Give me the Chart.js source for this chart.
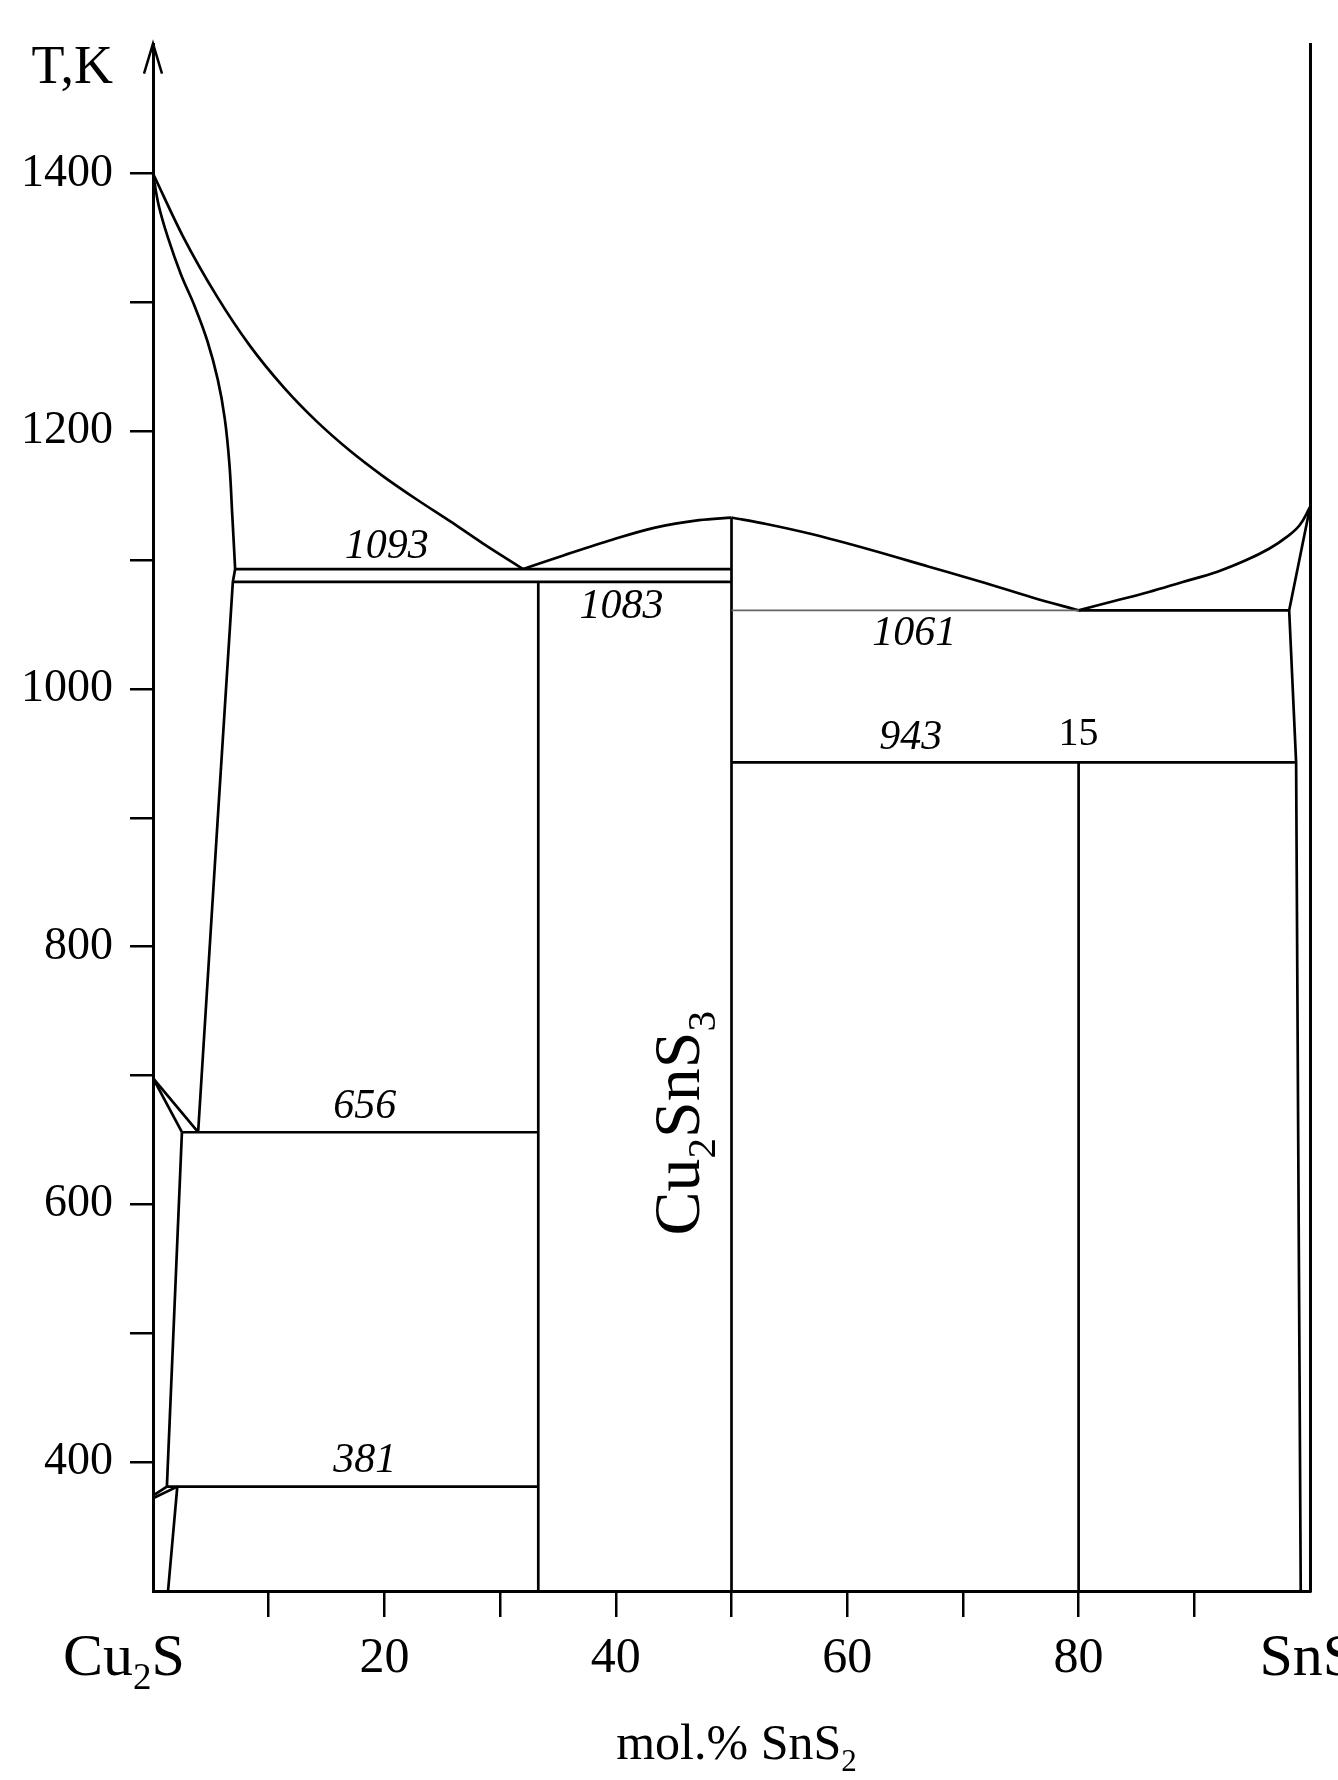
<!DOCTYPE html>
<html>
<head>
<meta charset="utf-8">
<title>Cu2S - SnS2</title>
<script src="https://cdn.jsdelivr.net/npm/chart.js@4.4.1/dist/chart.umd.min.js"></script>
<style>
  body { margin: 0; background: #fff; }
  canvas { display: block; }
</style>
</head>
<body>
<canvas id="phaseChart" width="1338" height="1780"></canvas>
<script>
// axis ticks (x in mol.% SnS2, y in K)
var xTicks = [10, 20, 30, 40, 50, 60, 70, 80, 90];
var xTickLabels = [20, 40, 60, 80];
var yTicks = [400, 500, 600, 700, 800, 900, 1000, 1100, 1200, 1300, 1400];
var yTickLabels = [400, 600, 800, 1000, 1200, 1400];

// liquidus Cu2S -> eutectic 1093
var liqLeftX = [0, 2.6, 5.5, 8.4, 11.3, 14.1, 17.0, 19.9, 22.8, 25.7, 28.5, 32.0];
var liqLeftT = [1400, 1351, 1305, 1266, 1234, 1208, 1185, 1165, 1147, 1130, 1113, 1093];
// solidus of Cu2S solid solution
var solLeftX = [0, 0.5, 1.3, 2.4, 3.6, 4.7, 5.6, 6.2, 6.6, 6.85, 7.0, 7.1];
var solLeftT = [1400, 1375, 1350, 1322, 1297, 1270, 1240, 1210, 1175, 1135, 1110, 1093];
// solvus down to 656
var solvLeftX = [7.1, 6.9, 5.6, 3.9];
var solvLeftT = [1093, 1083, 900, 656];
// low temperature part near Cu2S
var lowAX = [0, 3.9];      var lowAT = [698, 656];
var lowBX = [0, 2.5];      var lowBT = [698, 656];
var lowCX = [2.5, 1.2];    var lowCT = [656, 381];
var lowDX = [0, 1.2];      var lowDT = [374, 381];
var lowEX = [0, 2.1];      var lowET = [372, 381];
var lowFX = [2.1, 1.3];    var lowFT = [381, 300];
// invariant lines
var h1093X = [7.1, 50];    var h1093T = [1093, 1093];
var h1083X = [6.9, 50];    var h1083T = [1083, 1083];
var h656X = [2.5, 33.3];   var h656T = [656, 656];
var h381X = [1.2, 33.3];   var h381T = [381, 381];
var h1061aX = [50, 80];    var h1061aT = [1061, 1061];
var h1061bX = [80, 98.2];  var h1061bT = [1061, 1061];
var h943X = [50, 98.8];    var h943T = [943, 943];
// compounds
var v333X = [33.3, 33.3];  var v333T = [1083, 300];
var v50X = [50, 50];       var v50T = [1133, 300];
var v80X = [80, 80];       var v80T = [943, 300];
// liquidus between eutectic and Cu2SnS3 maximum
var liqMidX = [32.0, 35.6, 39.4, 43.3, 47.2, 50];
var liqMidT = [1093, 1104, 1115, 1125, 1131, 1133];
// liquidus Cu2SnS3 -> eutectic 1061
var liqRightAX = [50, 53, 57, 62, 67, 72, 76, 80];
var liqRightAT = [1133, 1128, 1120, 1108, 1095, 1082, 1071, 1061];
// liquidus eutectic 1061 -> SnS2
var liqRightBX = [80, 83, 86, 89, 92, 94.5, 96.5, 98, 99.1, 100];
var liqRightBT = [1061, 1068, 1075, 1083, 1091, 1100, 1109, 1118, 1127, 1141];
// solidus / solvus of SnS2
var solRightX = [100, 98.2, 98.8, 99.2];
var solRightT = [1141, 1061, 943, 300];

// text labels in the field
var isoText = ["1093", "1083", "1061", "943", "656", "381"];
var isoX = [20.2, 40.5, 65.8, 65.5, 18.3, 18.3];
var isoT = [1110, 1064, 1043, 962, 676, 401];
var compText = ["15"];
var compX = [80];
var compT = [965];

function pts(xs, ts) {
    return xs.map(function (x, i) { return { x: x, y: ts[i] }; });
}

// curve: 0 straight, 1 monotone in x, 2 free spline
function line(xs, ts, curve, color, width) {
    return {
        data: pts(xs, ts),
        showLine: true,
        borderColor: color || "#000",
        borderWidth: width || 2.7,
        pointRadius: 0,
        cubicInterpolationMode: curve === 1 ? "monotone" : "default",
        tension: curve === 2 ? 0.4 : 0,
        clip: 8
    };
}

var serif = "'Liberation Serif', 'Times New Roman', serif";

// chemical formula with subscript digits written as _n
function chemParts(s) {
    var out = [];
    for (var i = 0; i < s.length; i++) {
        if (s[i] === "_") {
            out.push({ t: s[i + 1], sub: true });
            i++;
        } else if (out.length && !out[out.length - 1].sub) {
            out[out.length - 1].t += s[i];
        } else {
            out.push({ t: s[i], sub: false });
        }
    }
    return out;
}

function drawChem(ctx, s, cx, baseY, size) {
    var parts = chemParts(s);
    var big = size + "px " + serif;
    var small = Math.round(size * 0.62) + "px " + serif;
    var w = 0;
    parts.forEach(function (p) {
        ctx.font = p.sub ? small : big;
        p.w = ctx.measureText(p.t).width;
        w += p.w;
    });
    var x = cx - w / 2;
    ctx.textAlign = "left";
    ctx.textBaseline = "alphabetic";
    parts.forEach(function (p) {
        ctx.font = p.sub ? small : big;
        ctx.fillText(p.t, x, baseY + (p.sub ? size * 0.24 : 0));
        x += p.w;
    });
}

var textPlugin = {
    id: "phaseText",
    afterDraw: function (chart) {
        var ctx = chart.ctx;
        var xs = chart.scales.x;
        var ys = chart.scales.y;
        var area = chart.chartArea;
        ctx.save();
        ctx.fillStyle = "#000";
        ctx.strokeStyle = "#000";

        // arrow on temperature axis
        ctx.lineWidth = 2.5;
        ctx.beginPath();
        ctx.moveTo(area.left - 9, area.top + 29);
        ctx.lineTo(area.left, area.top - 1);
        ctx.lineTo(area.left + 9, area.top + 29);
        ctx.stroke();

        ctx.font = "54px " + serif;
        ctx.textAlign = "right";
        ctx.textBaseline = "alphabetic";
        ctx.fillText("T,K", area.left - 40, area.top + 38);

        // isotherm values
        ctx.font = "italic 42px " + serif;
        ctx.textAlign = "center";
        ctx.textBaseline = "middle";
        isoText.forEach(function (t, i) {
            ctx.fillText(t, xs.getPixelForValue(isoX[i]), ys.getPixelForValue(isoT[i]));
        });
        ctx.font = "40px " + serif;
        compText.forEach(function (t, i) {
            ctx.fillText(t, xs.getPixelForValue(compX[i]), ys.getPixelForValue(compT[i]));
        });

        // component names under the axis
        drawChem(ctx, "Cu_2S", xs.getPixelForValue(0) - 29, area.bottom + 84, 60);
        drawChem(ctx, "SnS_2", xs.getPixelForValue(100) + 7, area.bottom + 84, 60);
        drawChem(ctx, "mol.% SnS_2", xs.getPixelForValue(50) + 5, area.bottom + 168, 50);

        // compound name, vertical
        ctx.translate(xs.getPixelForValue(45.3), ys.getPixelForValue(663));
        ctx.rotate(-Math.PI / 2);
        drawChem(ctx, "Cu_2SnS_3", 0, 22, 66);
        ctx.restore();
    }
};

var datasets = [
    line(liqLeftX, liqLeftT, 1),
    line(solLeftX, solLeftT, 2),
    line(solvLeftX, solvLeftT, 0),
    line(lowAX, lowAT, 0),
    line(lowBX, lowBT, 0),
    line(lowCX, lowCT, 0),
    line(lowDX, lowDT, 0),
    line(lowEX, lowET, 0),
    line(lowFX, lowFT, 0),
    line(h1093X, h1093T, 0),
    line(h1083X, h1083T, 0),
    line(h656X, h656T, 0),
    line(h381X, h381T, 0),
    line(h1061aX, h1061aT, 0, "#666", 1.8),
    line(h1061bX, h1061bT, 0),
    line(h943X, h943T, 0),
    line(v333X, v333T, 0),
    line(v50X, v50T, 0),
    line(v80X, v80T, 0),
    line(liqMidX, liqMidT, 1),
    line(liqRightAX, liqRightAT, 1),
    line(liqRightBX, liqRightBT, 2),
    line(solRightX, solRightT, 0)
];

var ctx = document.getElementById("phaseChart").getContext("2d");
window.phaseChart = new Chart(ctx, {
    type: "scatter",
    data: { datasets: datasets },
    options: {
        responsive: false,
        devicePixelRatio: 1,
        animation: false,
        layout: { padding: { top: 44, left: 0, right: 0, bottom: 0 } },
        plugins: {
            legend: { display: false },
            tooltip: { enabled: false }
        },
        scales: {
            x: {
                type: "linear",
                min: 0,
                max: 100,
                afterBuildTicks: function (s) {
                    s.ticks = xTicks.map(function (v) { return { value: v }; });
                },
                afterFit: function (s) { s.height = 189; },
                ticks: {
                    autoSkip: false,
                    maxRotation: 0,
                    color: "#000",
                    padding: 12,
                    font: { family: serif, size: 50 },
                    callback: function (v) {
                        return xTickLabels.indexOf(v) >= 0 ? String(v) : "";
                    }
                },
                grid: {
                    drawOnChartArea: false,
                    drawTicks: true,
                    tickLength: 26,
                    color: "#000",
                    lineWidth: 2.5
                },
                border: { display: true, color: "#000", width: 3 }
            },
            y: {
                type: "linear",
                min: 300,
                max: 1500,
                afterBuildTicks: function (s) {
                    s.ticks = yTicks.map(function (v) { return { value: v }; });
                },
                afterFit: function (s) { s.width = 153; },
                ticks: {
                    autoSkip: false,
                    color: "#000",
                    padding: 17,
                    font: { family: serif, size: 46 },
                    callback: function (v) {
                        return yTickLabels.indexOf(v) >= 0 ? String(v) : "";
                    }
                },
                grid: {
                    drawOnChartArea: false,
                    drawTicks: true,
                    tickLength: 23,
                    color: "#000",
                    lineWidth: 2.5
                },
                border: { display: true, color: "#000", width: 3 }
            },
            yRight: {
                type: "linear",
                position: "right",
                min: 300,
                max: 1500,
                afterFit: function (s) { s.width = 28; },
                ticks: { display: false },
                grid: { display: false, drawOnChartArea: false, drawTicks: false },
                border: { display: true, color: "#000", width: 3 }
            }
        }
    },
    plugins: [textPlugin]
});
</script>
</body>
</html>
